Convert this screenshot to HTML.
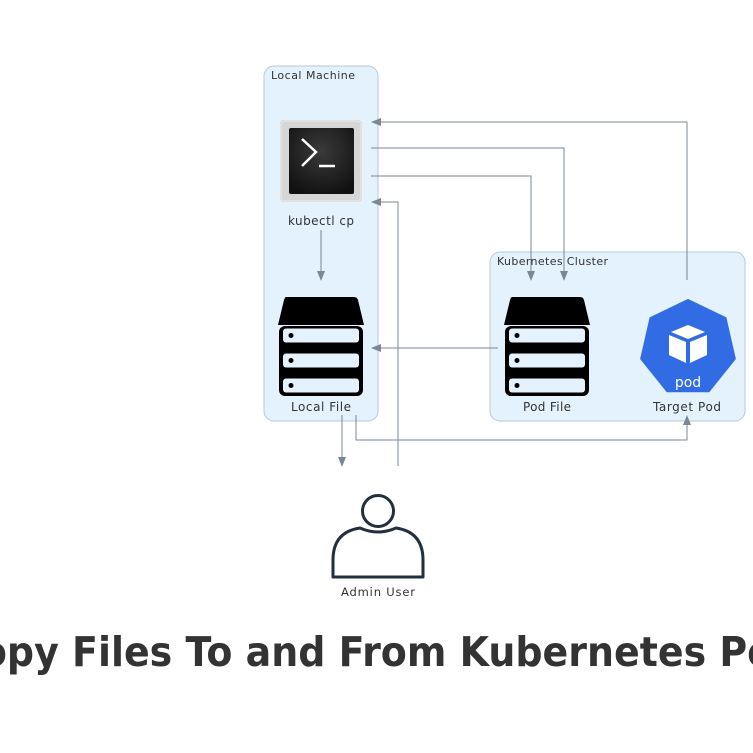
<!DOCTYPE html>
<html><head><meta charset="utf-8"><style>
html,body{margin:0;padding:0;background:#fff;}
svg{display:block;}
text{font-family:"DejaVu Sans","Liberation Sans",sans-serif;}
</style></head><body>
<svg width="753" height="753" viewBox="0 0 753 753" xmlns="http://www.w3.org/2000/svg">
<defs>
<marker id="ar" markerWidth="10" markerHeight="10" refX="9" refY="5" orient="auto" markerUnits="userSpaceOnUse">
<path d="M0,1 L10,5 L0,9 Z" fill="#7b8794"/></marker>
<radialGradient id="tg" cx="0.5" cy="0.35" r="0.7"><stop offset="0" stop-color="#3a3a3a"/><stop offset="1" stop-color="#111"/></radialGradient>
<g id="drv">
<path d="M286,297 H354 Q357,297 358,300 L364,325 H278 L284,300 Q285,297 286,297 Z" fill="#000"/>
<rect x="279" y="326" width="84" height="70" rx="6" fill="#000"/>
<rect x="283" y="328.5" width="76" height="14" rx="3" fill="#e3f2fc"/>
<rect x="283" y="353.5" width="76" height="14" rx="3" fill="#e3f2fc"/>
<rect x="283" y="378.5" width="76" height="14" rx="3" fill="#e3f2fc"/>
<circle cx="291" cy="335.5" r="2.5" fill="#000"/>
<circle cx="291" cy="360.5" r="2.5" fill="#000"/>
<circle cx="291" cy="385.5" r="2.5" fill="#000"/>
</g>
</defs>
<rect x="264" y="66" width="114" height="355" rx="10" fill="#e3f2fc" stroke="#b9c8d4" stroke-width="1"/>
<text x="271" y="79" font-size="11" fill="#333" textLength="84">Local Machine</text>
<rect x="490" y="252" width="255" height="169" rx="10" fill="#e3f2fc" stroke="#b9c8d4" stroke-width="1"/>
<text x="497" y="265" font-size="11" fill="#333" textLength="111">Kubernetes Cluster</text>

<rect x="280" y="120" width="82" height="82" rx="4" fill="#d6d6d6"/>
<rect x="281" y="121" width="80" height="80" rx="4" fill="none" stroke="#ececec" stroke-width="1"/>
<rect x="289" y="128" width="65" height="66" rx="2" fill="url(#tg)"/>
<path d="M302,139 L316,152 L302,166" fill="none" stroke="#fff" stroke-width="2.5"/>
<line x1="319" y1="166" x2="335" y2="166" stroke="#fff" stroke-width="2.5"/>
<text x="321" y="225" font-size="12" fill="#333" text-anchor="middle" textLength="66">kubectl cp</text>

<use href="#drv"/>
<text x="321" y="411" font-size="12" fill="#333" text-anchor="middle" textLength="60">Local File</text>
<use href="#drv" transform="translate(226,0)"/>
<text x="547" y="411" font-size="12" fill="#333" text-anchor="middle" textLength="48">Pod File</text>

<polygon points="688,300 725.5,318 734.8,358.7 708.8,391.2 667.2,391.2 641.2,358.7 650.5,318" fill="#326ce5" stroke="#326ce5" stroke-width="2" stroke-linejoin="round"/>
<path d="M688,325 L705,332 L688,339 L671,332 Z" fill="#fff"/>
<path d="M669,335 L686,342 L686,363 L669,355 Z" fill="#fff"/>
<path d="M707,335 L690,342 L690,363 L707,355 Z" fill="#fff"/>
<text x="688" y="387" font-size="14" fill="#fff" text-anchor="middle">pod</text>
<text x="687" y="411" font-size="12" fill="#333" text-anchor="middle" textLength="68">Target Pod</text>

<g fill="none" stroke="#7b8794" stroke-width="1">
<path d="M687,280 V122 H372" marker-end="url(#ar)"/>
<path d="M371,148 H564 V280" marker-end="url(#ar)"/>
<path d="M371,176 H531 V280" marker-end="url(#ar)"/>
<path d="M398,466 V202 H372" marker-end="url(#ar)"/>
<path d="M321,230 V280" marker-end="url(#ar)"/>
<path d="M498,348 H372" marker-end="url(#ar)"/>
<path d="M342,415 V466" marker-end="url(#ar)"/>
<path d="M356,415 V440 H687 V416" marker-end="url(#ar)"/>
</g>

<circle cx="378" cy="511" r="15.5" fill="none" stroke="#232f3e" stroke-width="3"/>
<path d="M333,577 V560 Q333,532 360,528 Q378,536 396,528 Q423,532 423,560 V577 Z" fill="none" stroke="#232f3e" stroke-width="3" stroke-linejoin="round"/>
<text x="378" y="596" font-size="11.5" fill="#333" text-anchor="middle" textLength="74">Admin User</text>

<text x="388" y="666" font-size="41" font-weight="bold" fill="#333" text-anchor="middle" textLength="870" lengthAdjust="spacingAndGlyphs">Copy Files To and From Kubernetes Pods</text>
</svg>
</body></html>
